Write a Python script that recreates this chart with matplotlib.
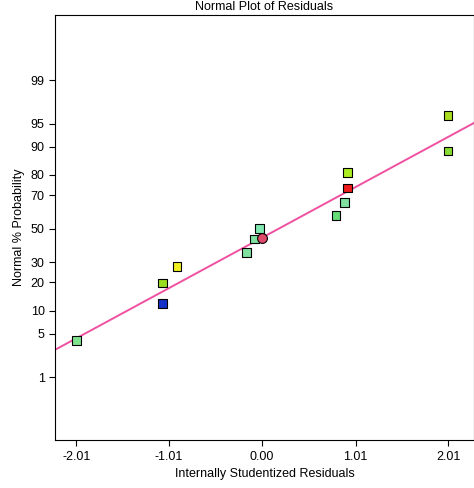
from statistics import NormalDist

import matplotlib

matplotlib.use("Agg")
import matplotlib.pyplot as plt  # noqa: E402
import numpy as np  # noqa: E402

nd = NormalDist()

# residuals (x) and normal % probability (y)
resid = [-2.01, -1.08, -0.92, -1.08, -0.17, -0.08, -0.03, 0.80, 0.89, 0.92, 0.92, 2.01, 2.01]
prob = [4.0, 19.7, 27.8, 12.1, 35.6, 43.5, 50.0, 58.3, 66.0, 73.7, 81.0, 96.2, 88.8]
colors = ["#7fe28f", "#99dd22", "#f0f020", "#1530c8", "#80e0a0", "#80e0a0", "#80e8b0",
          "#66dd77", "#80e0a0", "#ee1c1c", "#aaee22", "#aadd22", "#88dd33"]
center_x, center_p = 0.0, 44.5
line_slope, line_icpt = 0.784, -0.14
yticks = [1, 5, 10, 20, 30, 50, 70, 80, 90, 95, 99]
xticks = [-2.01, -1.01, 0.00, 1.01, 2.01]


def z(p):
    return nd.inv_cdf(p / 100.0)


plt.rcParams["font.family"] = ["Liberation Sans", "DejaVu Sans"]
fig = plt.figure(figsize=(4.74, 4.88), dpi=100)
ax = fig.add_axes([0.116, 0.098, 0.884, 0.872])

xl = np.array([-2.24, 2.29])
ax.plot(xl, line_slope * xl + line_icpt, color="#f050a0", lw=1.4, zorder=1)
ax.scatter(resid, [z(p) for p in prob], marker="s", s=38, c=colors,
           edgecolors="black", linewidths=0.8, zorder=3)
ax.scatter([center_x], [z(center_p)], marker="o", s=50, c="#e04a6a",
           edgecolors="black", linewidths=0.8, zorder=4)

ax.set_xlim(*xl)
ax.set_ylim(-3.31, 3.35)
ax.set_xticks(xticks)
ax.set_xticklabels([f"{t:.2f}" for t in xticks])
ax.set_yticks([z(t) for t in yticks])
ax.set_yticklabels([str(t) for t in yticks])
ax.tick_params(labelsize=9, direction="out", length=4)
ax.set_xlabel("Internally Studentized Residuals", fontsize=9)
ax.set_ylabel("Normal % Probability", fontsize=9)
ax.set_title("Normal Plot of Residuals", fontsize=9, pad=3)

fig.savefig("out.png", dpi=100)
